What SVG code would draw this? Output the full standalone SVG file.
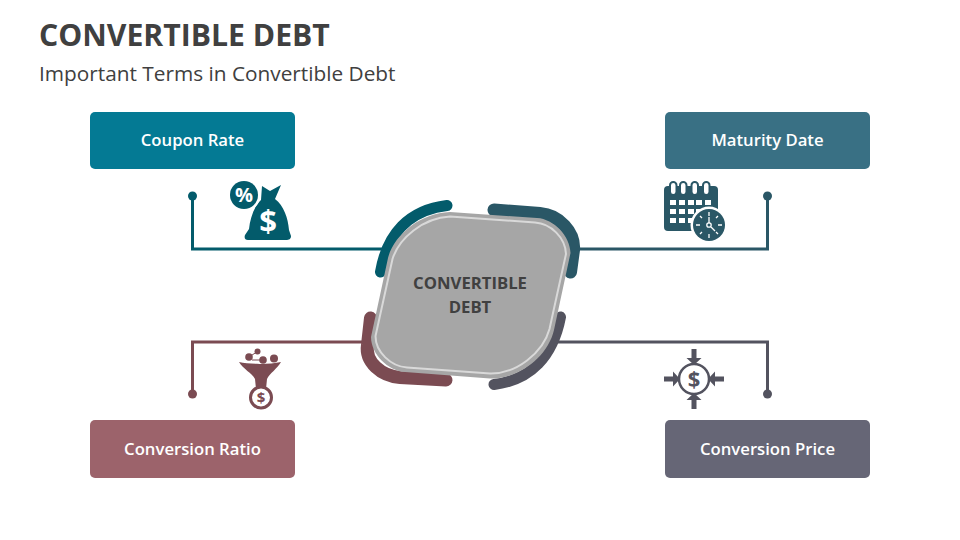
<svg xmlns="http://www.w3.org/2000/svg" width="960" height="540" viewBox="0 0 960 540">
<style>
text{font-family:"Open Sans","Liberation Sans",sans-serif}
.lab{font-size:16.700px;font-weight:600;fill:#fff;text-anchor:middle}
.wire{fill:none;stroke-width:3}
.arc{fill:none;stroke-width:11;stroke-linecap:round}
.arc2{fill:none;stroke-width:13;stroke-linecap:round}
.sym{font-weight:700;text-anchor:middle}
</style>
<rect width="960" height="540" fill="#fff"/>
<text x="39" y="46" font-size="30.200" font-weight="700" fill="#404040">CONVERTIBLE DEBT</text>
<text x="39" y="81" font-size="20.800" fill="#404040">Important Terms in Convertible Debt</text>

<g id="connectors">
<path class="wire" stroke="#035B6B" d="M192.500 196V249H385"/><circle cx="192.500" cy="196" r="4.500" fill="#035B6B"/>
<path class="wire" stroke="#2A5766" d="M767.500 196V249H575"/><circle cx="767.500" cy="196" r="4.500" fill="#2A5766"/>
<path class="wire" stroke="#7B4B52" d="M192.500 394V342H370"/><circle cx="192.500" cy="394" r="4.500" fill="#7B4B52"/>
<path class="wire" stroke="#53535F" d="M767.500 394V342H555"/><circle cx="767.500" cy="394" r="4.500" fill="#53535F"/>
</g>

<g id="node-coupon-rate"><rect x="90" y="112" width="205" height="57" rx="5" fill="#047A94"/><text class="lab" x="192.500" y="146">Coupon Rate</text></g>
<g id="node-maturity-date"><rect x="665" y="112" width="205" height="57" rx="5" fill="#397084"/><text class="lab" x="767.500" y="146">Maturity Date</text></g>
<g id="node-conversion-ratio"><rect x="90" y="420" width="205" height="58" rx="5" fill="#9C636B"/><text class="lab" x="192.500" y="455">Conversion Ratio</text></g>
<g id="node-conversion-price"><rect x="665" y="420" width="205" height="58" rx="5" fill="#666676"/><text class="lab" x="767.500" y="455">Conversion Price</text></g>

<g id="node-center">
<path class="arc" stroke="#035B6B" d="M380.500 272C387 234 409 210 447 205.500"/>
<path class="arc2" stroke="#2A5766" d="M494 210L540 213.500C559 215 575 232 573.500 250L570.500 272"/>
<path class="arc2" stroke="#7B4B52" d="M370.500 318L367.500 345C365 362 381 376 400 377.500L446 380"/>
<path class="arc" stroke="#53535F" d="M560.500 317C553 356 531 380 494 384.500"/>
<path fill="#A6A6A6" d="M450 212L537 218C554 219 570 236 570.500 253L554 330C548 356 520 379 490 378.500L405 372C388 371 371 354 371 337L388 258C394 235 420 213 450 212Z"/>
<path fill="none" stroke="#D9D9D9" stroke-width="2" d="M450 216.500L535 222.500C551 223.500 565.500 238 566 254L549.500 329C543 353 516 374 490 373.500L407 367.500C391 366.500 375.500 352 375.500 336L392.500 259C399 238 423 218 450 216.500Z"/>
<text x="470" y="289" font-size="16.700" font-weight="700" fill="#404040" text-anchor="middle">CONVERTIBLE</text>
<text x="470" y="313" font-size="16.700" font-weight="700" fill="#404040" text-anchor="middle">DEBT</text>
</g>

<g id="icon-coupon">
<path fill="#035B6B" d="M262 186L270 191L281 185L275 199C284 206 288 218 289 230L291 236C291 239 289 240 286 240H248C245 240 244 238 245 235L249 229C250 219 254 206 261 200Z"/>
<circle cx="244" cy="195" r="16.500" fill="#fff"/>
<circle cx="244" cy="195" r="14" fill="#035B6B"/>
<text class="sym" x="244" y="202" font-size="20" fill="#fff">%</text>
<text class="sym" x="268" y="232" font-size="31" fill="#fff">$</text>
</g>

<g id="icon-maturity">
<rect x="664" y="186" width="54" height="45" rx="4" fill="#2A5766"/>
<path fill="none" stroke="#fff" stroke-width="1" d="M673 233.500h18"/>
<g fill="#fff" stroke="#2A5766" stroke-width="2"><rect x="670" y="182" width="6.500" height="13" rx="3.200"/><rect x="680" y="182" width="6.500" height="13" rx="3.200"/><rect x="691.500" y="182" width="6.500" height="13" rx="3.200"/><rect x="703" y="182" width="6.500" height="13" rx="3.200"/></g>
<g fill="#fff"><rect x="670" y="200" width="6" height="5"/><rect x="679" y="200" width="6" height="5"/><rect x="688" y="200" width="6" height="5"/><rect x="696" y="200" width="6" height="5"/><rect x="705" y="200" width="6" height="5"/><rect x="670" y="209" width="6" height="5"/><rect x="679" y="209" width="6" height="5"/><rect x="688" y="209" width="6" height="5"/><rect x="696" y="209" width="6" height="5"/><rect x="705" y="209" width="6" height="5"/><rect x="670" y="218" width="6" height="5"/><rect x="679" y="218" width="6" height="5"/><rect x="688" y="218" width="6" height="5"/></g>
<circle cx="709" cy="225" r="18.500" fill="#fff"/>
<circle cx="709" cy="225" r="16" fill="#2A5766"/>
<g fill="none" stroke="#fff" stroke-width="1.300"><path d="M709 212v4M709 234v4M696 225h4M718 225h4M700 216l2 2M716 232l2 2M718 216l-2 2M702 232l-2 2M709 217v6M711 227l4 4"/><circle cx="709" cy="225" r="2.200"/></g>
</g>

<g id="icon-ratio" fill="#7B4B52">
<circle cx="249" cy="357" r="3.800"/><circle cx="257.500" cy="351.500" r="3"/><circle cx="263" cy="360" r="3.800"/><circle cx="274" cy="358.500" r="4"/>
<path fill="none" stroke="#7B4B52" stroke-width="1" d="M249 357L257.500 351.500M252 360H260"/>
<path d="M239 362C250 364.500 270 364.500 281 362C277 369 270 373 267 379L266 389H256L255 379C252 373 243 369 239 362Z"/>
<circle cx="261" cy="397.500" r="10.500" fill="#fff" stroke="#7B4B52" stroke-width="3"/>
<text class="sym" x="261" y="403" font-size="15">$</text>
</g>

<g id="icon-price" fill="#53535F">
<circle cx="694" cy="379" r="15" fill="none" stroke="#53535F" stroke-width="2.500"/>
<text class="sym" x="694" y="387" font-size="22">$</text>
<path d="M691.500 349h5v9h5l-7.500 7-7.500-7h5zM691.500 409h5v-9h5l-7.500-7-7.500 7h5zM664 376.500v5h9v5l7-7.500-7-7.500v5zM724 376.500v5h-9v5l-7-7.500 7-7.500v5z"/>
</g>
</svg>
